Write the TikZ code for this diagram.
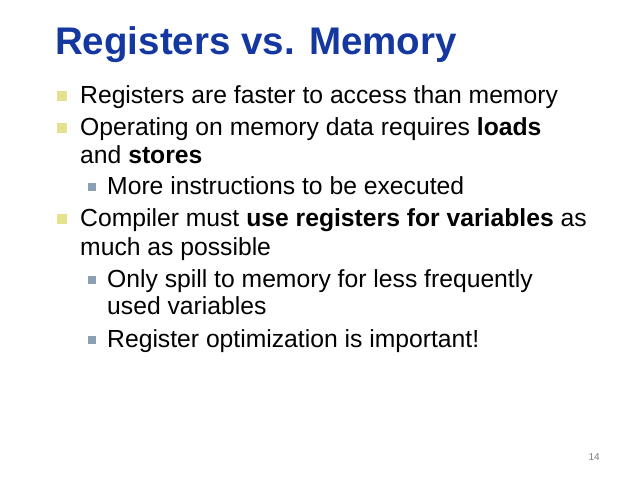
\documentclass[tikz,border=0pt]{standalone}
\usepackage{fontspec}
\setmainfont{Liberation Sans}
\definecolor{titleblue}{RGB}{20,55,160}
\definecolor{byellow}{RGB}{230,225,140}
\definecolor{bgray}{RGB}{140,160,180}
\begin{document}
\begin{tikzpicture}[x=1pt,y=-1pt,
  tx/.style={anchor=base west,inner sep=0,font=\fontsize{24.7}{28}\selectfont},
  sx/.style={anchor=base west,inner sep=0,font=\fontsize{24.7}{28}\selectfont},
  yb/.style={fill=byellow,minimum size=10pt,inner sep=0},
  gb/.style={fill=bgray,minimum size=8.5pt,inner sep=0}]
\useasboundingbox (0,0) rectangle (638,478);
\node[anchor=base west,inner sep=0,text=titleblue,font=\fontsize{38.5}{44}\selectfont\bfseries] (title) at (55,55) {Registers vs. Memory};
\node[yb] (b1) at (62,96) {};
\node[tx] (t1) at (80,104) {Registers are faster to access than memory};
\node[yb] (b2) at (62,128) {};
\node[tx] (t2) at (80,136) {Operating on memory data requires \textbf{loads}};
\node[tx] (t2b) at (80,164) {and \textbf{stores}};
\node[gb] (s1) at (92,187) {};
\node[sx] (u1) at (107,195) {More instructions to be executed};
\node[yb] (b3) at (62,219) {};
\node[tx] (t3) at (80,227) {Compiler must \textbf{use registers for variables} as};
\node[tx] (t3b) at (80,256) {much as possible};
\node[gb] (s2) at (92,280) {};
\node[sx] (u2) at (107,288) {Only spill to memory for less frequently};
\node[sx] (u2b) at (107,315) {used variables};
\node[gb] (s3) at (92,340) {};
\node[sx] (u3) at (107,348) {Register optimization is important!};
\node[anchor=base east,inner sep=0,text=gray,font=\fontsize{10}{12}\selectfont] (pg) at (600,461) {14};
\end{tikzpicture}
\end{document}
